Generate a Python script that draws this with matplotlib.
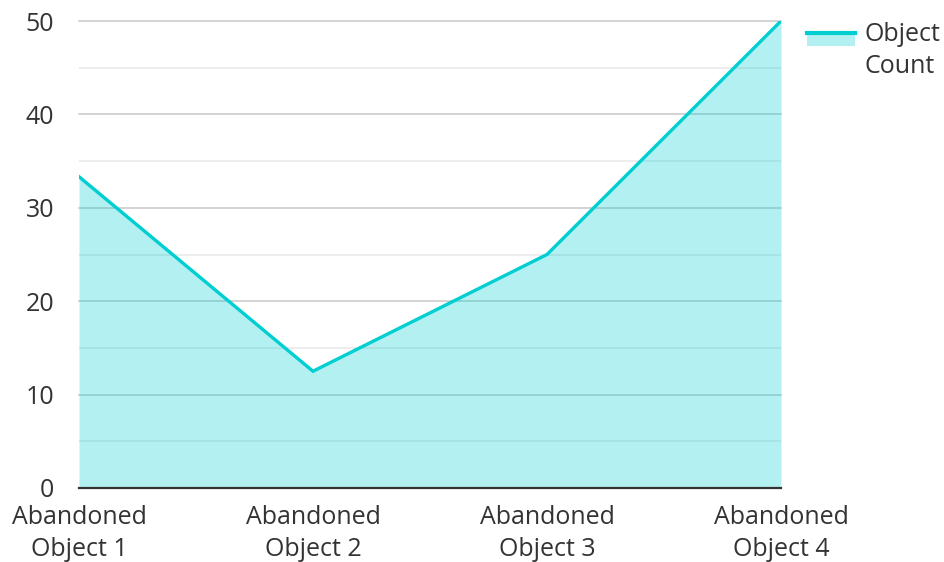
import matplotlib
matplotlib.use("Agg")
import matplotlib.pyplot as plt
from matplotlib.patches import Rectangle
from matplotlib.lines import Line2D
from matplotlib.ticker import MultipleLocator

plt.rcParams['font.family'] = ['Open Sans', 'DejaVu Sans']

# data
categories = ["Abandoned\nObject 1", "Abandoned\nObject 2", "Abandoned\nObject 3", "Abandoned\nObject 4"]
object_count = [33.33, 12.5, 25, 50]
series_name = "Object\nCount"

line_color = "#00CED1"
text_color = "#333333"

fig = plt.figure(figsize=(9.44, 5.62), dpi=100)
ax = fig.add_axes([0.0837, 0.1317, 0.7436, 0.8309])

x = list(range(len(categories)))
ax.fill_between(x, object_count, 0, color=line_color, alpha=0.3, linewidth=0, zorder=2)
ax.plot(x, object_count, color=line_color, linewidth=2.4, zorder=3, solid_joinstyle="miter")

ax.set_xlim(0, len(categories) - 1)
ax.set_ylim(0, 50)
ax.yaxis.set_major_locator(MultipleLocator(10))
ax.yaxis.set_minor_locator(MultipleLocator(5))
ax.grid(True, which="major", axis="y", color="#c8c8c8", linewidth=1.1, zorder=1)
ax.grid(True, which="minor", axis="y", color="#e8e8e8", linewidth=1.1, zorder=1)
ax.set_axisbelow(True)
for gl in ax.get_ygridlines():
    gl.set_clip_on(False)

ax.set_xticks(x)
ax.set_xticklabels(categories, fontsize=18, color=text_color, linespacing=1.38)
ax.tick_params(axis="y", which="major", labelsize=18, labelcolor=text_color, length=0, pad=18)
ax.tick_params(axis="y", which="minor", length=0)
ax.tick_params(axis="x", length=0, pad=12)

for s in ["left", "right", "top"]:
    ax.spines[s].set_visible(False)
ax.spines["bottom"].set_color("#333333")
ax.spines["bottom"].set_linewidth(1.6)
ax.spines["bottom"].set_zorder(4)

# legend
fig.add_artist(Rectangle((807 / 944, 1 - 46 / 562), 48 / 944, 11 / 562,
                         transform=fig.transFigure, facecolor=line_color, alpha=0.3, linewidth=0))
fig.add_artist(Line2D([807 / 944, 855 / 944], [1 - 33 / 562, 1 - 33 / 562],
                      transform=fig.transFigure, color=line_color, linewidth=3))
fig.text(865 / 944, 1 - 22 / 562, series_name, fontsize=18, color=text_color,
         va="top", ha="left", linespacing=1.38)

fig.savefig("out.png", dpi=100)
